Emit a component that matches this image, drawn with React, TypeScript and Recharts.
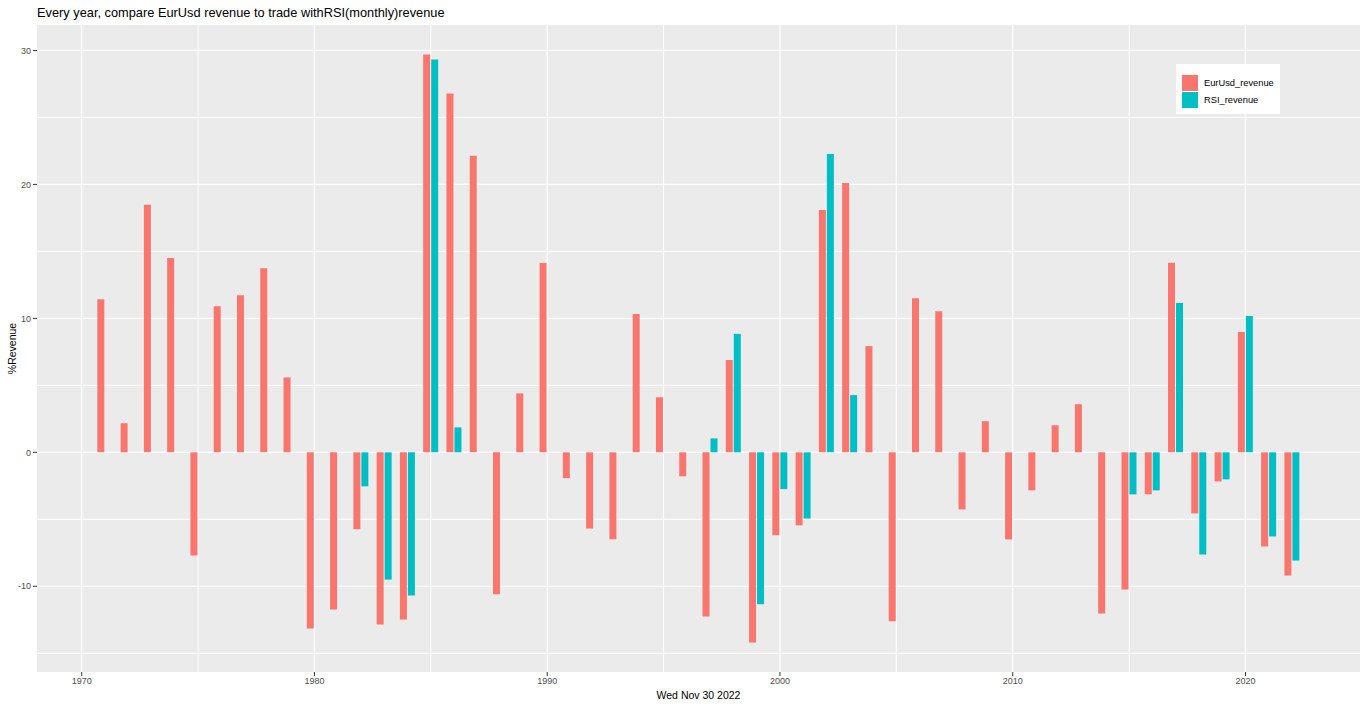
import { BarChart, Bar, XAxis, YAxis, CartesianGrid, Label } from "recharts"

// yearly revenue
const years = [
  1971, 1972, 1973, 1974, 1975, 1976, 1977, 1978, 1979, 1980,
  1981, 1982, 1983, 1984, 1985, 1986, 1987, 1988, 1989, 1990,
  1991, 1992, 1993, 1994, 1995, 1996, 1997, 1998, 1999, 2000,
  2001, 2002, 2003, 2004, 2005, 2006, 2007, 2008, 2009, 2010,
  2011, 2012, 2013, 2014, 2015, 2016, 2017, 2018, 2019, 2020,
  2021, 2022,
]

const eurUsdRevenue = [
  11.42, 2.17, 18.48, 14.51, -7.7, 10.9, 11.73, 13.74, 5.59, -13.16,
  -11.73, -5.74, -12.86, -12.49, 29.69, 26.79, 22.14, -10.6, 4.4, 14.14,
  -1.93, -5.69, -6.49, 10.33, 4.11, -1.79, -12.25, 6.89, -14.2, -6.19,
  -5.45, 18.09, 20.1, 7.93, -12.61, 11.5, 10.53, -4.26, 2.32, -6.5,
  -2.84, 2.02, 3.59, -12.04, -10.25, -3.14, 14.15, -4.56, -2.17, 8.98,
  -7.03, -9.2,
]

// null = no RSI trade that year
const rsiRevenue = [
  null, null, null, null, null, null, null, null, null, null,
  null, -2.54, -9.5, -10.69, 29.32, 1.86, null, null, null, null,
  null, null, null, null, null, null, 1.04, 8.84, -11.35, -2.75,
  -4.94, 22.27, 4.27, null, null, null, null, null, null, null,
  null, null, null, null, -3.14, -2.84, 11.15, -7.63, -2.02, 10.17,
  -6.28, -8.08,
]

const xTicks = [1970, 1980, 1990, 2000, 2010, 2020]
const xMinorTicks = [1975, 1985, 1995, 2005, 2015]
const yTicks = [-10, 0, 10, 20, 30]
const yMinorTicks = [-15, -5, 5, 15, 25]

const series = [
  { key: "EurUsd_revenue", color: "#F8766D" },
  { key: "RSI_revenue", color: "#00BFC4" },
]

const data = years.map((year, i) => ({
  year,
  EurUsd_revenue: eurUsdRevenue[i],
  RSI_revenue: rsiRevenue[i],
}))

const font = "'Liberation Sans', Arial, sans-serif"

export default function App() {
  return (
    <div style={{ position: "absolute", left: 0, top: 0, width: 1366, height: 705, background: "#fff", fontFamily: font }}>
      <div style={{ position: "absolute", left: 37, top: 5, fontSize: 12.8, lineHeight: "15px", color: "#000", whiteSpace: "nowrap" }}>
        Every year, compare EurUsd revenue to trade withRSI(monthly)revenue
      </div>
      <BarChart
        width={1366}
        height={705}
        data={data}
        margin={{ top: 25, right: 6, bottom: 0, left: 0 }}
        barSize={7}
        barGap={1}
      >
        <CartesianGrid
          fill="#EBEBEB"
          stroke="#fff"
          strokeWidth={1}
          horizontalValues={yMinorTicks}
          verticalValues={xMinorTicks}
        />
        <CartesianGrid
          stroke="#fff"
          strokeWidth={1.2}
          horizontalValues={yTicks}
          verticalValues={xTicks}
        />
        <XAxis
          dataKey="year"
          type="number"
          domain={[1968.08, 2024.92]}
          allowDataOverflow
          ticks={xTicks}
          height={33}
          axisLine={false}
          tickLine={{ stroke: "#333" }}
          tickSize={4}
          tickMargin={2}
          tick={{ fill: "#4D4D4D", fontSize: 9, fontFamily: font }}
        >
          <Label
            value="Wed Nov 30 2022"
            position="insideBottom"
            offset={6}
            fill="#000"
            fontSize={10.5}
            fontFamily={font}
          />
        </XAxis>
        <YAxis
          type="number"
          domain={[-16.4, 31.9]}
          allowDataOverflow
          ticks={yTicks}
          width={37}
          axisLine={false}
          tickLine={{ stroke: "#333" }}
          tickSize={4}
          tickMargin={2}
          tick={{ fill: "#4D4D4D", fontSize: 9, fontFamily: font }}
        >
          <Label
            content={({ viewBox }: any) => {
              const cy = viewBox.y + viewBox.height / 2
              return (
                <text
                  x={12}
                  y={cy}
                  transform={`rotate(-90 12 ${cy})`}
                  textAnchor="middle"
                  dominantBaseline="central"
                  fontSize={10.5}
                  fontFamily={font}
                  fill="#000"
                >
                  %Revenue
                </text>
              )
            }}
          />
        </YAxis>
        {series.map((s) => (
          <Bar key={s.key} dataKey={s.key} fill={s.color} isAnimationActive={false} />
        ))}
      </BarChart>
      <div
        style={{
          position: "absolute",
          left: 1176,
          top: 64,
          width: 104,
          height: 50,
          background: "#fff",
        }}
      >
        {series.map((s, i) => (
          <div
            key={s.key}
            style={{ position: "absolute", left: 6, top: 11 + i * 17, height: 16, display: "flex", alignItems: "center" }}
          >
            <div style={{ width: 16, height: 16, background: s.color }} />
            <span style={{ marginLeft: 6, fontSize: 9.3, color: "#000", whiteSpace: "nowrap" }}>{s.key}</span>
          </div>
        ))}
      </div>
    </div>
  )
}
